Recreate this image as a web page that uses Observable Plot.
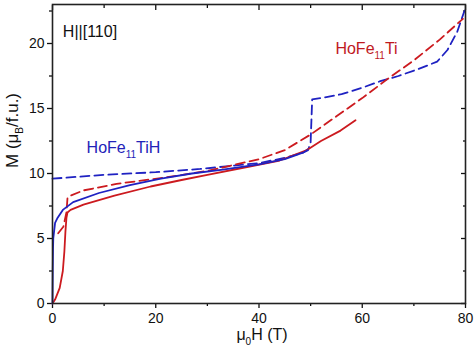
<!DOCTYPE html>
<html><head><meta charset="utf-8">
<script src="https://cdn.jsdelivr.net/npm/d3@7"></script>
<script src="https://cdn.jsdelivr.net/npm/@observablehq/plot@0.6"></script>
<style>body{margin:0;background:#fff} svg{display:block}</style>
</head><body><div id="chart"></div>
<script>
const xTicks = [0, 20, 40, 60, 80];
const xMinor = [10, 30, 50, 70];
const yTicks = [0, 5, 10, 15, 20];
const yMinor = [2.5, 7.5, 12.5, 17.5, 22.5];

// HoFe11TiH, solid
const tihSolidH = [0, 0.05, 0.1, 0.15, 0.5, 1, 2, 4, 9, 15, 21, 27, 33, 40, 45, 48.5, 49.5];
const tihSolidM = [0, 2.5, 4.2, 5.0, 6.2, 6.6, 7.2, 7.8, 8.5, 9.1, 9.6, 10.0, 10.3, 10.7, 11.1, 11.6, 11.8];
// HoFe11TiH, dashed
const tihDashH = [0, 5, 10, 20, 28.6, 35, 40, 45, 48.5, 49.6, 50.0, 50.3, 52, 56, 60, 63.5, 67, 70.6, 74.5, 76.5, 78.4, 79.7, 80];
const tihDashM = [9.6, 9.75, 9.9, 10.1, 10.35, 10.6, 10.8, 11.2, 11.6, 11.9, 12.4, 15.7, 15.8, 16.1, 16.6, 17.1, 17.5, 18.0, 18.6, 19.5, 20.9, 22.4, 22.6];
// HoFe11Ti, solid
const tiSolidH = [0, 0.5, 1.4, 2.0, 2.3, 2.5, 2.7, 2.9, 3.5, 6, 12, 19, 25, 30, 37.7, 44, 49.3, 52, 55.8, 58.7];
const tiSolidM = [0, 0.3, 1.2, 2.5, 4.0, 5.5, 6.6, 7.0, 7.2, 7.6, 8.3, 9.0, 9.5, 9.9, 10.5, 11.0, 11.8, 12.5, 13.3, 14.1];
// HoFe11Ti, dashed
const tiDashH = [1.1, 2.1, 2.7, 2.9, 3.5, 6, 12.4, 22, 30, 40, 45, 50, 55, 60, 65, 70, 75, 79.5];
const tiDashM = [5.4, 5.9, 7.0, 8.1, 8.3, 8.7, 9.2, 9.7, 10.2, 11.1, 11.8, 13.0, 14.4, 15.8, 17.3, 18.7, 20.3, 21.9];

const labelText = ["H||[110]", "HoFe11TiH", "HoFe11Ti"];
const labelH = [2.0, 6.6, 54.8];
const labelM = [20.9, 12.0, 19.6];
const labelColor = ["#111111", "#2323b8", "#c0191e"];

const BLUE = "#1f22c2";
const RED = "#cc1a1f";

const rows = (H, M) => H.map((h, i) => ({H: h, M: M[i]}));
const labels = labelText.map((t, i) => ({t, H: labelH[i], M: labelM[i], c: labelColor[i]}));

const plot = Plot.plot({
  width: 474, height: 349,
  marginLeft: 52, marginRight: 9, marginTop: 4, marginBottom: 46,
  x: {domain: [0, 80]},
  y: {domain: [0, 23]},
  style: {fontFamily: "'Liberation Sans', Arial, sans-serif", fontSize: "14px", color: "#111", background: "#fff"},
  marks: [
    Plot.axisX(xTicks, {tickSize: 5, tickPadding: 5, fontSize: 14, label: null, strokeWidth: 1.3}),
    Plot.axisX(xMinor, {tickSize: 3, text: null, label: null, strokeWidth: 1.3}),
    Plot.axisX(xTicks, {anchor: "top", tickSize: -5, text: null, label: null, strokeWidth: 1.3}),
    Plot.axisX(xMinor, {anchor: "top", tickSize: -3, text: null, label: null, strokeWidth: 1.3}),
    Plot.axisY(yTicks, {tickSize: 5, tickPadding: 3, fontSize: 14, label: null, strokeWidth: 1.3}),
    Plot.axisY(yMinor, {tickSize: 3, text: null, label: null, strokeWidth: 1.3}),
    Plot.axisY(yTicks, {anchor: "right", tickSize: -5, text: null, label: null, strokeWidth: 1.3}),
    Plot.axisY(yMinor, {anchor: "right", tickSize: -3, text: null, label: null, strokeWidth: 1.3}),
    Plot.line(rows(tihDashH, tihDashM), {x: "H", y: "M", stroke: BLUE, strokeWidth: 1.8, strokeDasharray: "9,5"}),
    Plot.line(rows(tiDashH, tiDashM), {x: "H", y: "M", stroke: RED, strokeWidth: 1.8, strokeDasharray: "9,5"}),
    Plot.line(rows(tiSolidH, tiSolidM), {x: "H", y: "M", stroke: RED, strokeWidth: 1.8}),
    Plot.line(rows(tihSolidH, tihSolidM), {x: "H", y: "M", stroke: BLUE, strokeWidth: 1.8}),
    Plot.text(labels, {x: "H", y: "M", text: "t", fill: "c", textAnchor: "start", fontSize: 16}),
    Plot.text(["M (μB/f.u.)"], {frameAnchor: "left", dx: -40, dy: 14, rotate: -90, fontSize: 17, fill: "#111"}),
    Plot.text(["μ0H (T)"], {frameAnchor: "bottom", dx: 3, dy: 36, fontSize: 16, fill: "#111"}),
    Plot.frame({stroke: "#222", strokeWidth: 1.6})
  ]
});

document.getElementById("chart").appendChild(plot);

// subscripts
const subs = {
  "HoFe11TiH": [["HoFe", 0], ["11", 1], ["TiH", 0]],
  "HoFe11Ti": [["HoFe", 0], ["11", 1], ["Ti", 0]],
  "M (μB/f.u.)": [["M (μ", 0], ["B", 1], ["/f.u.)", 0]],
  "μ0H (T)": [["μ", 0], ["0", 1], ["H (T)", 0]]
};
d3.select(plot).selectAll("text").each(function() {
  const t = this.textContent;
  if (!subs[t]) return;
  const el = d3.select(this);
  el.text(null);
  let prevSub = false;
  for (const [s, sub] of subs[t]) {
    const ts = el.append("tspan").text(s);
    if (sub) { ts.attr("font-size", "10px").attr("dy", 5); prevSub = true; }
    else if (prevSub) { ts.attr("dy", -5); prevSub = false; }
  }
});
</script>
</body></html>
